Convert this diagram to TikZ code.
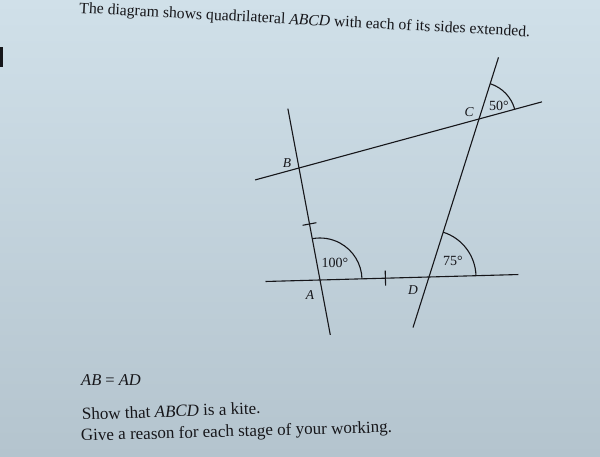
\documentclass[tikz,border=0pt]{standalone}
\usepackage{fontspec}
\setmainfont{Liberation Serif}
\usetikzlibrary{calc,angles}
\definecolor{paperT}{RGB}{208,224,233}
\definecolor{paperB}{RGB}{180,196,206}
\definecolor{ink}{RGB}{22,22,26}
\begin{document}
\begin{tikzpicture}[x=1pt,y=1pt,
  geo/.style={draw=ink, line width=1.1pt},
  arcstyle/.style={draw=ink, line width=1.1pt},
  lbl/.style={text=ink, font=\fontsize{14}{16}\selectfont, inner sep=0pt},
  ptlbl/.style={text=ink, font=\fontsize{13.5}{16}\selectfont\itshape, inner sep=0pt},
  body/.style={text=ink, inner sep=0pt, anchor=base west},
]
\shade[top color=paperT, bottom color=paperB] (0,0) rectangle (600,457);
\useasboundingbox (0,0) rectangle (600,457);
\fill[ink] (0,390) rectangle (2.5,410);

% vertices
\coordinate (A) at (320,177);
\coordinate (B) at (299,289);
\coordinate (C) at (479,338);
\coordinate (D) at (429,180);
% line ends
\coordinate (ABt) at ($(A)!1.53!(B)$);
\coordinate (ABb) at ($(A)!-0.49!(B)$);
\coordinate (BCl) at ($(B)!-0.244!(C)$);
\coordinate (BCr) at ($(B)!1.35!(C)$);
\coordinate (CDt) at ($(D)!1.39!(C)$);
\coordinate (CDb) at ($(D)!-0.32!(C)$);
\coordinate (ADl) at ($(A)!-0.5!(D)$);
\coordinate (ADr) at ($(A)!1.82!(D)$);

\draw[geo] (ABt) -- (ABb);
\draw[geo] (BCl) -- (BCr);
\draw[geo] (CDt) -- (CDb);
\draw[geo] (ADl) -- (ADr);

% equal-length ticks
\coordinate (mAB) at ($(A)!0.5!(B)$);
\coordinate (mAD) at ($(A)!0.6!(D)$);
\draw[geo] ($(mAB)!7pt!90:(B)$) -- ($(mAB)!7pt!-90:(B)$);
\draw[geo] ($(mAD)!7.5pt!90:(D)$) -- ($(mAD)!7.5pt!-90:(D)$);

% angle arcs
\pic[arcstyle, angle radius=42pt] {angle = D--A--B};
\pic[arcstyle, angle radius=47pt] {angle = ADr--D--C};
\pic[arcstyle, angle radius=37pt] {angle = BCr--C--CDt};

% labels
\node[lbl] (l50) at (499,351) {50°};
\node[lbl] (l100) at (335,194) {100°};
\node[lbl] (l75) at (453,196) {75°};
\node[ptlbl] (lA) at (310,162) {A};
\node[ptlbl] (lB) at (287,294) {B};
\node[ptlbl] (lC) at (469,345) {C};
\node[ptlbl] (lD) at (413,167) {D};

% text
\node[body, rotate=-3, font=\fontsize{15.7}{18}\selectfont] (t1) at (79,444) {The diagram shows quadrilateral \textit{ABCD} with each of its sides extended.};
\node[body, font=\fontsize{16.5}{19}\selectfont] (t2) at (81,71) {\textit{AB} = \textit{AD}};
\node[body, rotate=2, font=\fontsize{17}{19}\selectfont] (t3) at (82,37) {Show that \textit{ABCD} is a kite.};
\node[body, rotate=1.6, font=\fontsize{17}{19}\selectfont] (t4) at (81,16) {Give a reason for each stage of your working.};
\end{tikzpicture}
\end{document}
